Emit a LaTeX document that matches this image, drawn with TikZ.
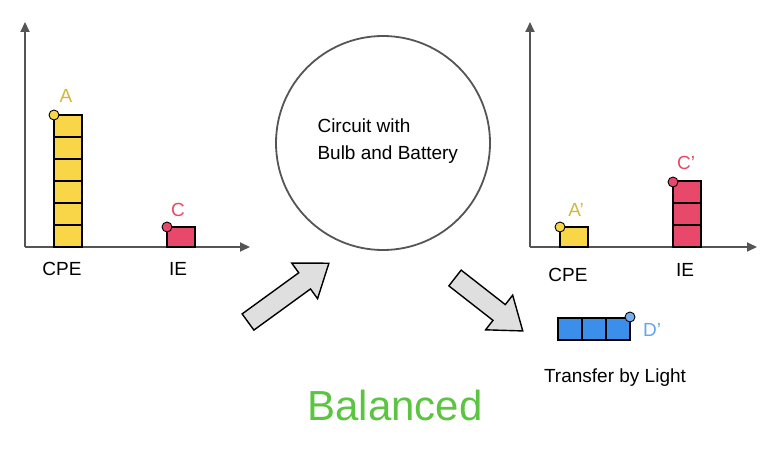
\documentclass[tikz,border=0pt]{standalone}
\usepackage{fontspec}
\setmainfont{Liberation Sans}
\usetikzlibrary{arrows.meta}
\definecolor{yel}{HTML}{F9D648}
\definecolor{rd}{HTML}{E8486A}
\definecolor{bl}{HTML}{3C8EEB}
\definecolor{grn}{HTML}{5BC440}
\definecolor{ax}{HTML}{555555}
\begin{document}
\begin{tikzpicture}[x=1pt,y=-1pt,
  axis/.style={draw=ax,line width=1.8pt,-{Triangle[length=10pt,width=9pt]}},
  cell/.style={draw=black,line width=1.4pt},
  dot/.style={circle,draw=black,line width=0.9pt,inner sep=0pt,minimum size=10pt},
  lab/.style={font=\fontsize{19}{21}\selectfont},
  blk/.style={draw=black,line width=1.4pt,fill=gray!25}]
\useasboundingbox (0,0) rectangle (768,452);
% left chart
\coordinate (o1) at (25,247);
\draw[axis] (o1) -- (25,22);
\draw[axis] (o1) -- (250,247);
\foreach \i in {0,...,5} \draw[cell,fill=yel] (54,247-22*\i) rectangle (82,225-22*\i);
\draw[cell,fill=rd] (167,247) rectangle (195,227);
\node[dot,fill=yel] (a) at (54,115) {};
\node[dot,fill=rd] (c) at (167,227) {};
\node[lab,text=yel!85!black] (la) at (66,96) {A};
\node[lab,text=rd] (lc) at (178,210) {C};
\node[lab] (cpe1) at (62,269) {CPE};
\node[lab] (ie1) at (178,269) {IE};
% circle
\node[circle,draw=ax,line width=1.8pt,minimum size=214pt] (circ) at (383,143) {};
\node[lab,align=left,anchor=west] (ct) at (314,141) {Circuit with\\[6pt]Bulb and Battery};
% right chart
\coordinate (o2) at (530,247);
\draw[axis] (o2) -- (530,22);
\draw[axis] (o2) -- (757,247);
\draw[cell,fill=yel] (560,247) rectangle (588,227);
\foreach \i in {0,1,2} \draw[cell,fill=rd] (673,247-22*\i) rectangle (701,225-22*\i);
\node[dot,fill=yel] (a2) at (560,227) {};
\node[dot,fill=rd] (c2) at (673,182) {};
\node[lab,text=yel!85!black] (la2) at (576,210) {A'};
\node[lab,text=rd] (lc2) at (686,163) {C'};
\node[lab] (cpe2) at (568,275) {CPE};
\node[lab] (ie2) at (685,270) {IE};
\foreach \i in {0,1,2} \draw[cell,fill=bl] (558+24*\i,318) rectangle (582+24*\i,340);
\node[dot,fill=bl!70] (d) at (630,317) {};
\node[lab,text=bl!80] (ld) at (652,330) {D'};
\node[lab] (tl) at (615,378) {Transfer by Light};
\node[text=grn,font=\fontsize{42}{46}\selectfont] (bal) at (395,405) {Balanced};
% block arrows
\begin{scope}[shift={(248,322)},rotate=36]
\draw[blk] (0,-10) -- (70,-10) -- (70,-22) -- (100,0) -- (70,22) -- (70,10) -- (0,10) -- cycle;
\end{scope}
\begin{scope}[shift={(455,278)},rotate=-38]
\draw[blk] (0,-10) -- (56,-10) -- (56,-22) -- (86,0) -- (56,22) -- (56,10) -- (0,10) -- cycle;
\end{scope}
\end{tikzpicture}
\end{document}
